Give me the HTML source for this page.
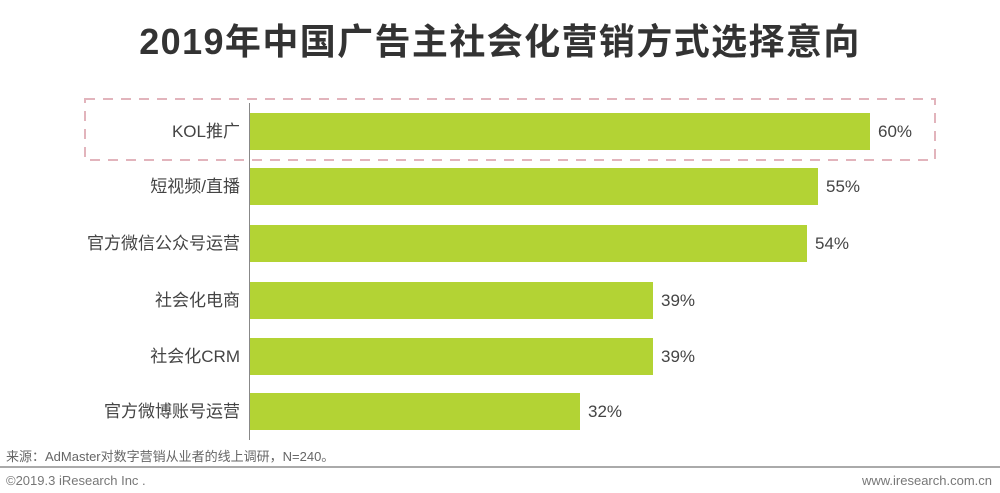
<!DOCTYPE html>
<html><head><meta charset="utf-8"><style>
body{margin:0;width:1000px;height:493px;background:#fff;position:relative;overflow:hidden;font-family:"Liberation Sans","Noto Sans CJK SC",sans-serif;}
.t{position:absolute;left:0;width:1000px;top:13px;text-align:center;font-size:36px;font-weight:bold;color:#333;letter-spacing:1.4px}
.bar{position:absolute;left:250px;height:37px;background:#b3d334}
.lb{position:absolute;right:760px;font-size:17px;color:#444;line-height:37px;white-space:nowrap}
.v{position:absolute;font-size:17px;color:#444;line-height:37px}
</style></head><body>
<div class="t">2019年中国广告主社会化营销方式选择意向</div>
<svg style="position:absolute;left:0;top:0" width="1000" height="493"><rect x="85" y="99" width="850" height="61" fill="none" stroke="#e2b4bc" stroke-width="2" stroke-dasharray="10,8"/></svg>
<div style="position:absolute;left:249px;top:103px;width:1px;height:337px;background:#888"></div>
<div class="bar" style="top:113px;width:620px"></div><div class="lb" style="top:113px">KOL推广</div><div class="v" style="top:113px;left:878px">60%</div>
<div class="bar" style="top:168px;width:568px"></div><div class="lb" style="top:168px">短视频/直播</div><div class="v" style="top:168px;left:826px">55%</div>
<div class="bar" style="top:225px;width:557px"></div><div class="lb" style="top:225px">官方微信公众号运营</div><div class="v" style="top:225px;left:815px">54%</div>
<div class="bar" style="top:282px;width:403px"></div><div class="lb" style="top:282px">社会化电商</div><div class="v" style="top:282px;left:661px">39%</div>
<div class="bar" style="top:338px;width:403px"></div><div class="lb" style="top:338px">社会化CRM</div><div class="v" style="top:338px;left:661px">39%</div>
<div class="bar" style="top:393px;width:330px"></div><div class="lb" style="top:393px">官方微博账号运营</div><div class="v" style="top:393px;left:588px">32%</div>
<div style="position:absolute;left:6px;top:446px;font-size:13px;color:#666">来源：AdMaster对数字营销从业者的线上调研，N=240。</div>
<div style="position:absolute;left:0;top:466px;width:1000px;height:2px;background:#aaa"></div>
<div style="position:absolute;left:6px;top:473px;font-size:13px;color:#777">©2019.3 iResearch Inc .</div>
<div style="position:absolute;right:8px;top:473px;font-size:13px;color:#777">www.iresearch.com.cn</div>
</body></html>
